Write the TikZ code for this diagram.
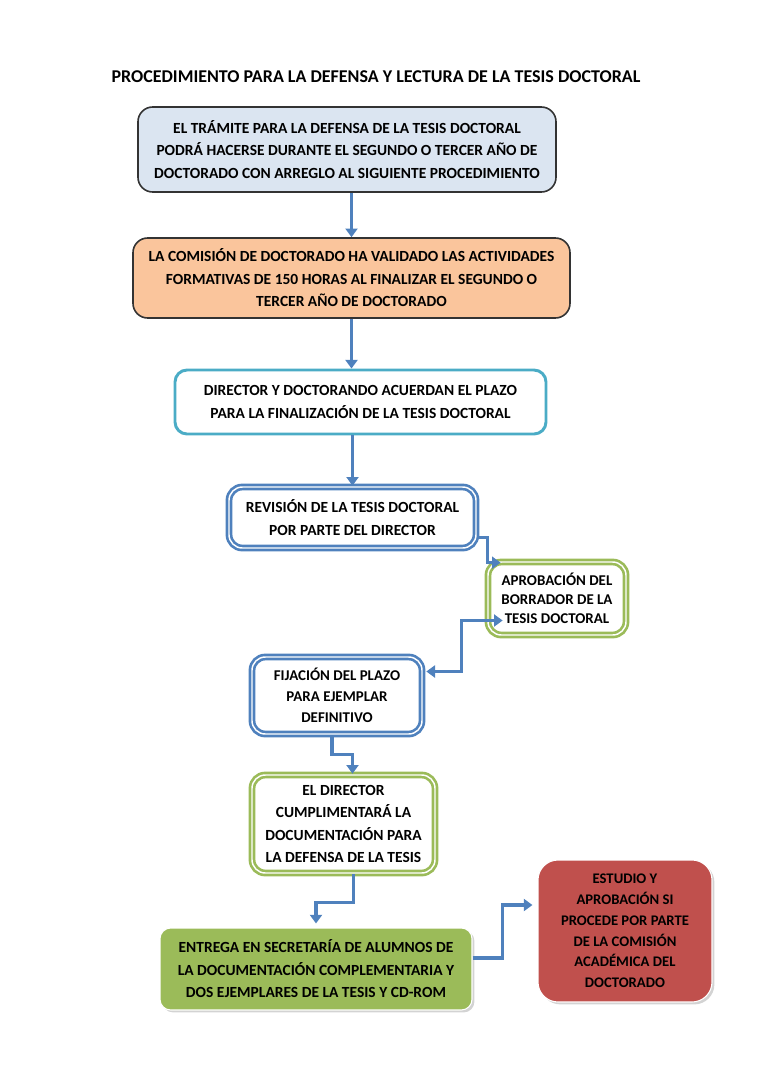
\documentclass[tikz,border=0pt]{standalone}
\usepackage{fontspec}
\setmainfont{Carlito}
\usetikzlibrary{arrows.meta,calc,shadows}
\definecolor{cblue}{HTML}{4F81BD}
\definecolor{cgreen}{HTML}{9BBB59}
\definecolor{cred}{HTML}{C0504D}
\definecolor{caqua}{HTML}{4BACC6}
\definecolor{cpale}{HTML}{DBE5F1}
\definecolor{cpeach}{HTML}{FAC59C}
\tikzset{
  base/.style={align=center, font=\fontsize{11.6}{16.9}\selectfont\bfseries, inner sep=0pt},
  darkbox/.style={base, draw=black!80, line width=1.2pt, rounded corners=11pt},
  aquabox/.style={base, draw=caqua, line width=2.2pt, rounded corners=9pt, fill=white},
  dblbox/.style={base, draw=#1, line width=2pt, double=white, double distance=1.1pt, rounded corners=10pt},
  solidbox/.style={base, fill=#1, draw=white, line width=0.8pt, rounded corners=10pt,
     drop shadow={opacity=0.35, shadow xshift=1.8pt, shadow yshift=-1.8pt}},
  arr/.style={draw=cblue, line width=2.3pt, -{Triangle[width=9pt,length=6.5pt]}},
  arrb/.style={draw=cblue, line width=2.3pt, {Triangle[width=9pt,length=6.5pt]}-{Triangle[width=9pt,length=6.5pt]}}
}
\begin{document}
\begin{tikzpicture}[x=0.75pt,y=-0.75pt]
\useasboundingbox (0,0) rectangle (768,1086);
\node[base, font=\fontsize{13.5}{16}\selectfont\bfseries] (title) at (376,77) {PROCEDIMIENTO PARA LA DEFENSA Y LECTURA DE LA TESIS DOCTORAL};
\node[darkbox, fill=cpale, minimum width=418*0.75pt, minimum height=85*0.75pt] (n1) at (347,149.5)
  {EL TRÁMITE PARA LA DEFENSA DE LA TESIS DOCTORAL\\PODRÁ HACERSE DURANTE EL SEGUNDO O TERCER AÑO DE\\DOCTORADO CON ARREGLO AL SIGUIENTE PROCEDIMIENTO};
\node[darkbox, fill=cpeach, minimum width=437*0.75pt, minimum height=80*0.75pt] (n2) at (351.5,278)
  {LA COMISIÓN DE DOCTORADO HA VALIDADO LAS ACTIVIDADES\\FORMATIVAS DE 150 HORAS AL FINALIZAR EL SEGUNDO O\\TERCER AÑO DE DOCTORADO};
\node[aquabox, minimum width=371*0.75pt, minimum height=64*0.75pt] (n3) at (360.5,402)
  {DIRECTOR Y DOCTORANDO ACUERDAN EL PLAZO\\PARA LA FINALIZACIÓN DE LA TESIS DOCTORAL};
\node[dblbox=cblue, minimum width=247*0.75pt, minimum height=61*0.75pt] (n4) at (352.5,517.5)
  {REVISIÓN DE LA TESIS DOCTORAL\\POR PARTE DEL DIRECTOR};
\node[dblbox=cgreen, minimum width=138*0.75pt, minimum height=73*0.75pt, font=\fontsize{11.2}{14.3}\selectfont\bfseries] (n5) at (557,598.5)
  {APROBACIÓN DEL\\BORRADOR DE LA\\TESIS DOCTORAL};
\node[dblbox=cblue, minimum width=170*0.75pt, minimum height=77*0.75pt, font=\fontsize{11.2}{15.8}\selectfont\bfseries] (n6) at (337,695.5)
  {FIJACIÓN DEL PLAZO\\PARA EJEMPLAR\\DEFINITIVO};
\node[dblbox=cgreen, minimum width=183*0.75pt, minimum height=98*0.75pt] (n7) at (343.5,824)
  {EL DIRECTOR\\CUMPLIMENTARÁ LA\\DOCUMENTACIÓN PARA\\LA DEFENSA DE LA TESIS};
\node[solidbox=cgreen, minimum width=312*0.75pt, minimum height=82*0.75pt, rounded corners=8pt] (n8) at (316,969)
  {ENTREGA EN SECRETARÍA DE ALUMNOS DE\\LA DOCUMENTACIÓN COMPLEMENTARIA Y\\DOS EJEMPLARES DE LA TESIS Y CD-ROM};
\node[solidbox=cred, minimum width=174*0.75pt, minimum height=142*0.75pt, rounded corners=15pt, font=\fontsize{11}{15.6}\selectfont\bfseries] (n9) at (625,931)
  {ESTUDIO Y\\APROBACIÓN SI\\PROCEDE POR PARTE\\DE LA COMISIÓN\\ACADÉMICA DEL\\DOCTORADO};
% connectors
\draw[arr] (n2.north |- n1.south) -- (n2.north);
\draw[arr] (n2.south) -- (n2.south |- n3.north);
\draw[arr] (n4.north |- n3.south) -- (n4.north);
\draw[arr] ($(n4.east)+(0,20)$) -- ++(10,0) |- ($(n5.north west)+(14,2)$);
\draw[arrb] ($(n6.east)+(3,-24)$) -- ++(35,0) |- ($(n5.west)+(16,22)$);
\draw[arr] ($(n6.south)+(-5,0)$) -- ++(0,19) -| ($(n7.north)+(9,0)$);
\draw[arr] ($(n7.south)+(10,0)$) -- ++(0,28) -| ($(n8.north)+(0,-4)$);
\draw[arr] ($(n8.east)+(0,-11)$) -- ++(30,0) |- ($(n9.west)+(-5,-26)$);
\end{tikzpicture}
\end{document}
